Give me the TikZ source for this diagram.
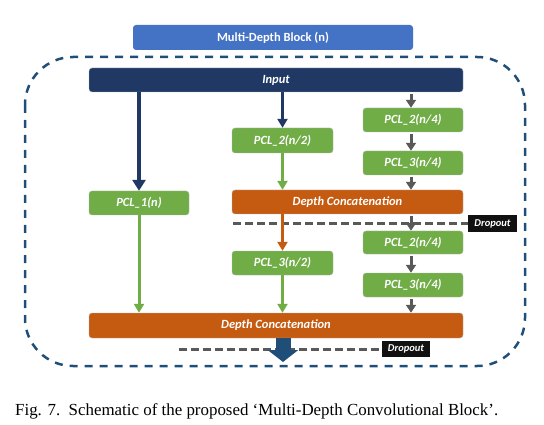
\documentclass[tikz,border=0pt]{standalone}
\usepackage{fontspec}
\setmainfont{Liberation Serif}
\newfontfamily\boxfont{Carlito}
\usetikzlibrary{arrows.meta,calc}
\definecolor{navy}{HTML}{203864}
\definecolor{grn}{HTML}{70AD47}
\definecolor{org}{HTML}{C55A11}
\definecolor{ttl}{HTML}{4472C4}
\definecolor{brd}{HTML}{1F4E79}
\definecolor{gry}{HTML}{595959}
\definecolor{drp}{HTML}{111111}
\tikzset{
  box/.style={rectangle, rounded corners=3pt, draw=white!70!black, line width=0.4pt, text=white,
    font=\boxfont\bfseries\itshape\fontsize{12.5}{14}\selectfont, inner sep=0pt},
  greenbox/.style={box, fill=grn},
  orgbox/.style={box, fill=org},
  navybox/.style={box, fill=navy},
  titlebox/.style={box, fill=ttl, draw=none, font=\boxfont\bfseries\fontsize{12.5}{14}\selectfont},
  dropbox/.style={rectangle, fill=drp, text=white, inner sep=0pt,
    font=\boxfont\bfseries\itshape\fontsize{10.5}{12}\selectfont},
  navythick/.style={draw=navy, line width=4.5pt, -{Triangle[width=13pt,length=11pt]}},
  navythin/.style={draw=navy, line width=3pt, -{Triangle[width=10pt,length=9pt]}},
  greenarr/.style={draw=grn, line width=3pt, -{Triangle[width=10pt,length=9pt]}},
  orgarr/.style={draw=org, line width=3pt, -{Triangle[width=10pt,length=9pt]}},
  grayarr/.style={draw=gry, line width=3pt, -{Triangle[width=10pt,length=8pt]}, shorten <=1.5pt},
  dropline/.style={draw=gry, line width=3pt, dash pattern=on 8pt off 4pt},
  outerline/.style={draw=brd, line width=2.5pt, dash pattern=on 8pt off 7pt, rounded corners=48pt},
}
\begin{document}
\begin{tikzpicture}[x=1pt,y=-1pt]
\useasboundingbox (0,0) rectangle (544,425);
% outer dashed frame
\draw[outerline] (25,57) rectangle (525,366);
% title
\node[titlebox, minimum width=280pt, minimum height=25pt] (title) at (273,37.5) {Multi-Depth Block (n)};
% boxes
\node[navybox, minimum width=374pt, minimum height=24pt] (input) at (276,80) {Input};
\node[greenbox, minimum width=100pt, minimum height=24pt] (pcl1) at (139,203) {PCL\_1(n)};
\node[greenbox, minimum width=101pt, minimum height=25pt] (pcl2h) at (282.5,140.5) {PCL\_2(n/2)};
\node[orgbox, minimum width=231pt, minimum height=24pt] (dc1) at (347.5,202) {Depth Concatenation};
\node[greenbox, minimum width=101pt, minimum height=24pt] (pcl3h) at (282.5,263) {PCL\_3(n/2)};
\node[orgbox, minimum width=374pt, minimum height=25pt] (dc2) at (276,325.5) {Depth Concatenation};
\node[greenbox, minimum width=100pt, minimum height=24pt] (p2q1) at (413,120) {PCL\_2(n/4)};
\node[greenbox, minimum width=100pt, minimum height=24pt] (p3q1) at (413,163) {PCL\_3(n/4)};
\node[greenbox, minimum width=100pt, minimum height=23pt] (p2q2) at (413,242.5) {PCL\_2(n/4)};
\node[greenbox, minimum width=100pt, minimum height=24pt] (p3q2) at (413,285) {PCL\_3(n/4)};
\node[dropbox, minimum width=49pt, minimum height=17pt] (drop1) at (492.5,223.5) {Dropout};
\node[dropbox, minimum width=48pt, minimum height=16pt] (drop2) at (406,349) {Dropout};
% dropout lines
\coordinate (d1s) at (233,223.5);
\coordinate (d2s) at (179,349);
\draw[dropline] (d1s) -- (drop1.west);
\draw[dropline] (d2s) -- (drop2.west);
% connectors
\draw[navythick] (input.south -| pcl1.north) -- (pcl1.north);
\draw[navythin] (input.south -| pcl2h.north) -- (pcl2h.north);
\draw[grayarr] ($(input.south -| p2q1.north)+(-2,0)$) -- ($(p2q1.north)+(-2,0)$);
\draw[greenarr] (pcl1.south) -- (pcl1.south |- dc2.north);
\draw[greenarr] (pcl2h.south) -- (pcl2h.south |- dc1.north);
\draw[orgarr] (dc1.south -| pcl3h.north) -- (pcl3h.north);
\draw[greenarr] (pcl3h.south) -- (pcl3h.south |- dc2.north);
\draw[grayarr] ($(p2q1.south)+(-2,0)$) -- ($(p3q1.north)+(-2,0)$);
\draw[grayarr] ($(p3q1.south)+(-2,0)$) -- ($(p3q1.south |- dc1.north)+(-2,0)$);
\draw[grayarr] ($(dc1.south -| p2q2.north)+(-2,0)$) -- ($(p2q2.north)+(-2,0)$);
\draw[grayarr] ($(p2q2.south)+(-2,0)$) -- ($(p3q2.north)+(-2,0)$);
\draw[grayarr] ($(p3q2.south)+(-2,0)$) -- ($(p3q2.south |- dc2.north)+(-2,0)$);
% output arrow
\coordinate (outtip) at (283,362);
\draw[draw=brd, line width=15pt, -{Triangle[width=30pt,length=12pt]}] (dc2.south -| outtip) -- (outtip);
% caption
\node[anchor=base west, inner sep=0pt, font=\fontsize{16.9}{20}\selectfont] (cap) at (15,415)
  {Fig. 7.\enspace Schematic of the proposed ‘Multi-Depth Convolutional Block’.};
\end{tikzpicture}
\end{document}
